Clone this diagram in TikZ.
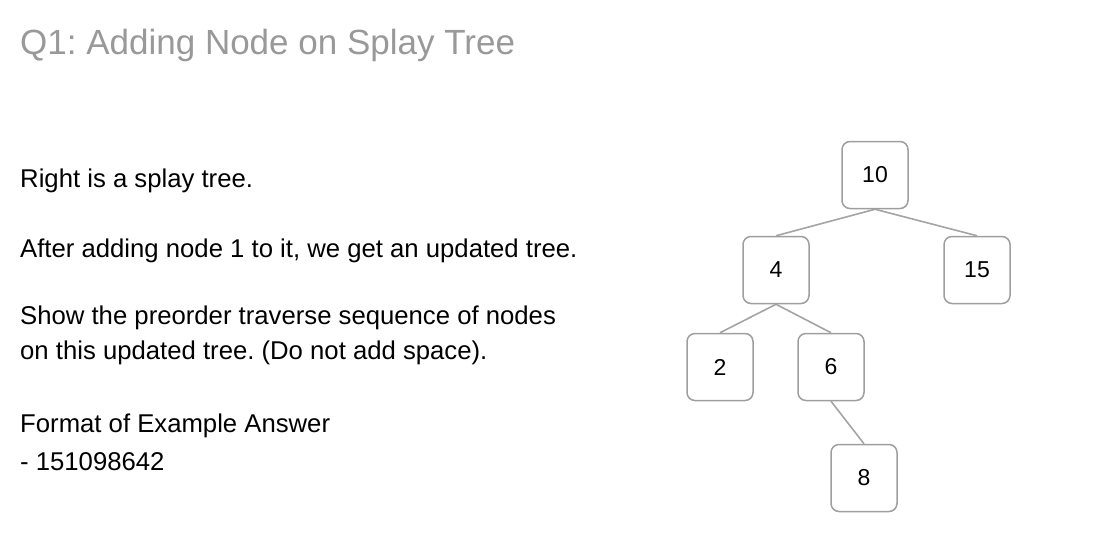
\documentclass[tikz,border=0pt]{standalone}
\usepackage{fontspec}
\setmainfont{Liberation Sans}
\usepackage{tikz}
\frenchspacing
\definecolor{titlegray}{HTML}{999999}
\definecolor{boxgray}{HTML}{9E9E9E}
\definecolor{edgegray}{HTML}{A4A4A4}
\begin{document}
\begin{tikzpicture}[x=1pt,y=1pt]
\tikzstyle{every node}+=[inner sep=0pt]
\tikzstyle{txt}=[anchor=base west,font=\fontsize{25.7}{30}\selectfont]
\tikzstyle{key}=[draw=boxgray,line width=1.5pt,rounded corners=8pt,minimum width=66pt,minimum height=67pt,font=\fontsize{23}{27}\selectfont]
\useasboundingbox (0,0) rectangle (1100,-550);
\node [anchor=base west,text=titlegray,font=\fontsize{35}{40}\selectfont] (title) at (20,-54) {Q1: Adding Node on Splay Tree};
\node [txt] (l1) at (20,-187) {Right is a splay tree.};
\node [txt] (l2) at (20,-257) {After adding node 1 to it, we get an updated tree.};
\node [txt] (l3) at (20,-324) {Show the preorder traverse sequence of nodes};
\node [txt] (l4) at (20,-359) {on this updated tree. (Do not add space).};
\node [txt] (l5) at (20,-432) {Format of Example Answer};
\node [txt] (l6) at (20,-470) {- 151098642};
\node [key] (n10) at (875,-175) {10};
\node [key] (n4) at (776,-270) {4};
\node [key] (n15) at (977,-270) {15};
\node [key] (n2) at (720,-367) {2};
\node [key] (n6) at (831,-367) {6};
\node [key] (n8) at (864,-478) {8};
\draw [edgegray,line width=1.6pt] (n10.south) -- (n4.north);
\draw [edgegray,line width=1.6pt] (n10.south) -- (n15.north);
\draw [edgegray,line width=1.6pt] (n4.south) -- (n2.north);
\draw [edgegray,line width=1.6pt] (n4.south) -- (n6.north);
\draw [edgegray,line width=1.6pt] (n6.south) -- (n8.north);
\end{tikzpicture}
\end{document}
